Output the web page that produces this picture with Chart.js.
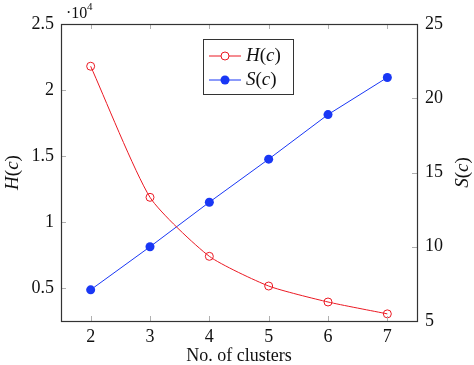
<!DOCTYPE html>
<html>
<head>
<meta charset="utf-8">
<script src="https://cdn.jsdelivr.net/npm/chart.js@4"></script>
<style>
  html, body { margin: 0; padding: 0; background: #fff; }
  #wrap { width: 474px; height: 365px; }
</style>
</head>
<body>
<div id="wrap"><canvas id="myChart" width="474" height="365"></canvas></div>
<script>
const clusters = [2, 3, 4, 5, 6, 7];
const hValues = [21800, 11870, 7400, 5150, 3940, 3040];
const sValues = [7.1, 10.0, 13.0, 15.9, 18.9, 21.4];
const xTicks = [2, 3, 4, 5, 6, 7];
const hTicks = [5000, 10000, 15000, 20000, 25000];
const sTicks = [5, 10, 15, 20, 25];

const serif = '"Liberation Serif", "DejaVu Serif", serif';
const redColor = 'rgb(235,25,35)';
const blueColor = 'rgb(25,55,245)';

// draw text made of italic / upright pieces
function mathText(ctx, parts, x, y, size, align) {
  let total = 0;
  parts.forEach(p => {
    ctx.font = (p[1] ? 'italic ' : '') + size + 'px ' + serif;
    total += ctx.measureText(p[0]).width;
  });
  let cx = align === 'center' ? x - total / 2 : x;
  ctx.textAlign = 'left';
  ctx.textBaseline = 'middle';
  parts.forEach(p => {
    ctx.font = (p[1] ? 'italic ' : '') + size + 'px ' + serif;
    ctx.fillText(p[0], cx, y);
    cx += ctx.measureText(p[0]).width;
  });
}

const decorPlugin = {
  id: 'decor',
  afterDatasetsDraw(chart) {
    const ctx = chart.ctx;
    const a = chart.chartArea;
    const xs = chart.scales.x, yl = chart.scales.yH, yr = chart.scales.yS;
    ctx.save();
    // inward ticks
    ctx.strokeStyle = '#b0b0b0';
    ctx.lineWidth = 1;
    ctx.beginPath();
    xTicks.forEach(v => {
      const px = Math.round(xs.getPixelForValue(v)) + 0.5;
      ctx.moveTo(px, a.bottom); ctx.lineTo(px, a.bottom - 5);
      ctx.moveTo(px, a.top); ctx.lineTo(px, a.top + 5);
    });
    hTicks.forEach(v => {
      const py = Math.round(yl.getPixelForValue(v)) + 0.5;
      ctx.moveTo(a.left, py); ctx.lineTo(a.left + 5, py);
    });
    sTicks.forEach(v => {
      const py = Math.round(yr.getPixelForValue(v)) + 0.5;
      ctx.moveTo(a.right, py); ctx.lineTo(a.right - 5, py);
    });
    ctx.stroke();
    // frame
    ctx.strokeStyle = '#333';
    ctx.lineWidth = 1.2;
    ctx.strokeRect(Math.round(a.left) + 0.5, Math.round(a.top) + 0.5,
      Math.round(a.right - a.left), Math.round(a.bottom - a.top));

    // legend box
    const lx = 203, ly = 39, lw = 90, lh = 55;
    ctx.fillStyle = '#fff';
    ctx.fillRect(lx, ly, lw, lh);
    ctx.strokeStyle = '#333';
    ctx.lineWidth = 1;
    ctx.strokeRect(lx + 0.5, ly + 0.5, lw, lh);
    const rows = [
      { y: 56, color: redColor, filled: false, label: [['H', 1], ['(', 0], ['c', 1], [')', 0]] },
      { y: 80, color: blueColor, filled: true, label: [['S', 1], ['(', 0], ['c', 1], [')', 0]] }
    ];
    rows.forEach(r => {
      ctx.strokeStyle = r.color;
      ctx.lineWidth = 1;
      ctx.beginPath();
      ctx.moveTo(209, r.y); ctx.lineTo(241, r.y);
      ctx.stroke();
      ctx.beginPath();
      ctx.arc(225, r.y, r.filled ? 4.5 : 4, 0, Math.PI * 2);
      if (r.filled) { ctx.fillStyle = r.color; ctx.fill(); }
      else { ctx.fillStyle = '#fff'; ctx.fill(); ctx.stroke(); }
      ctx.fillStyle = '#111';
      mathText(ctx, r.label, 246, r.y, 19, 'left');
    });

    // exponent label
    ctx.fillStyle = '#111';
    ctx.font = '16px ' + serif;
    ctx.textAlign = 'left';
    ctx.textBaseline = 'alphabetic';
    ctx.fillText('\u00B710', 66, 18);
    ctx.font = '11px ' + serif;
    ctx.fillText('4', 87, 10);

    // axis titles
    ctx.save();
    ctx.translate(13, (a.top + a.bottom) / 2);
    ctx.rotate(-Math.PI / 2);
    mathText(ctx, [['H', 1], ['(', 0], ['c', 1], [')', 0]], 0, 0, 19, 'center');
    ctx.restore();
    ctx.save();
    ctx.translate(463, (a.top + a.bottom) / 2);
    ctx.rotate(-Math.PI / 2);
    mathText(ctx, [['S', 1], ['(', 0], ['c', 1], [')', 0]], 0, 0, 19, 'center');
    ctx.restore();
    mathText(ctx, [['No. of clusters', 0]], (a.left + a.right) / 2, 356, 18, 'center');
    ctx.restore();
  }
};

const tickFont = { family: serif, size: 18 };

new Chart(document.getElementById('myChart'), {
  type: 'line',
  data: {
    datasets: [
      {
        label: 'H(c)',
        data: clusters.map((c, i) => ({ x: c, y: hValues[i] })),
        yAxisID: 'yH',
        borderColor: redColor,
        backgroundColor: '#fff',
        borderWidth: 1,
        pointRadius: 4,
        pointBorderWidth: 1,
        pointBorderColor: redColor,
        pointBackgroundColor: 'rgba(255,255,255,0)',
        tension: 0.2,
        fill: false
      },
      {
        label: 'S(c)',
        data: clusters.map((c, i) => ({ x: c, y: sValues[i] })),
        yAxisID: 'yS',
        borderColor: blueColor,
        backgroundColor: blueColor,
        borderWidth: 1,
        pointRadius: 4.5,
        pointBorderWidth: 0,
        pointBackgroundColor: blueColor,
        tension: 0,
        fill: false
      }
    ]
  },
  options: {
    responsive: false,
    animation: false,
    layout: { padding: { top: 24, left: 0, right: 0, bottom: 0 } },
    plugins: { legend: { display: false }, tooltip: { enabled: false } },
    scales: {
      x: {
        type: 'linear',
        min: 1.5, max: 7.5,
        grid: { display: false, drawTicks: false },
        border: { display: false },
        ticks: { color: '#111', font: tickFont, padding: 5 },
        afterBuildTicks: s => { s.ticks = xTicks.map(v => ({ value: v })); },
        afterFit: s => { s.height = 44; }
      },
      yH: {
        position: 'left',
        min: 2500, max: 25000,
        grid: { display: false, drawTicks: false },
        border: { display: false },
        ticks: { color: '#111', font: tickFont, padding: 7, callback: v => String(v / 10000) },
        afterBuildTicks: s => { s.ticks = hTicks.map(v => ({ value: v })); },
        afterFit: s => { s.width = 61; }
      },
      yS: {
        position: 'right',
        min: 5, max: 25,
        grid: { display: false, drawTicks: false },
        border: { display: false },
        ticks: { color: '#111', font: tickFont, padding: 8 },
        afterBuildTicks: s => { s.ticks = sTicks.map(v => ({ value: v })); },
        afterFit: s => { s.width = 57; }
      }
    }
  },
  plugins: [decorPlugin]
});
</script>
</body>
</html>
